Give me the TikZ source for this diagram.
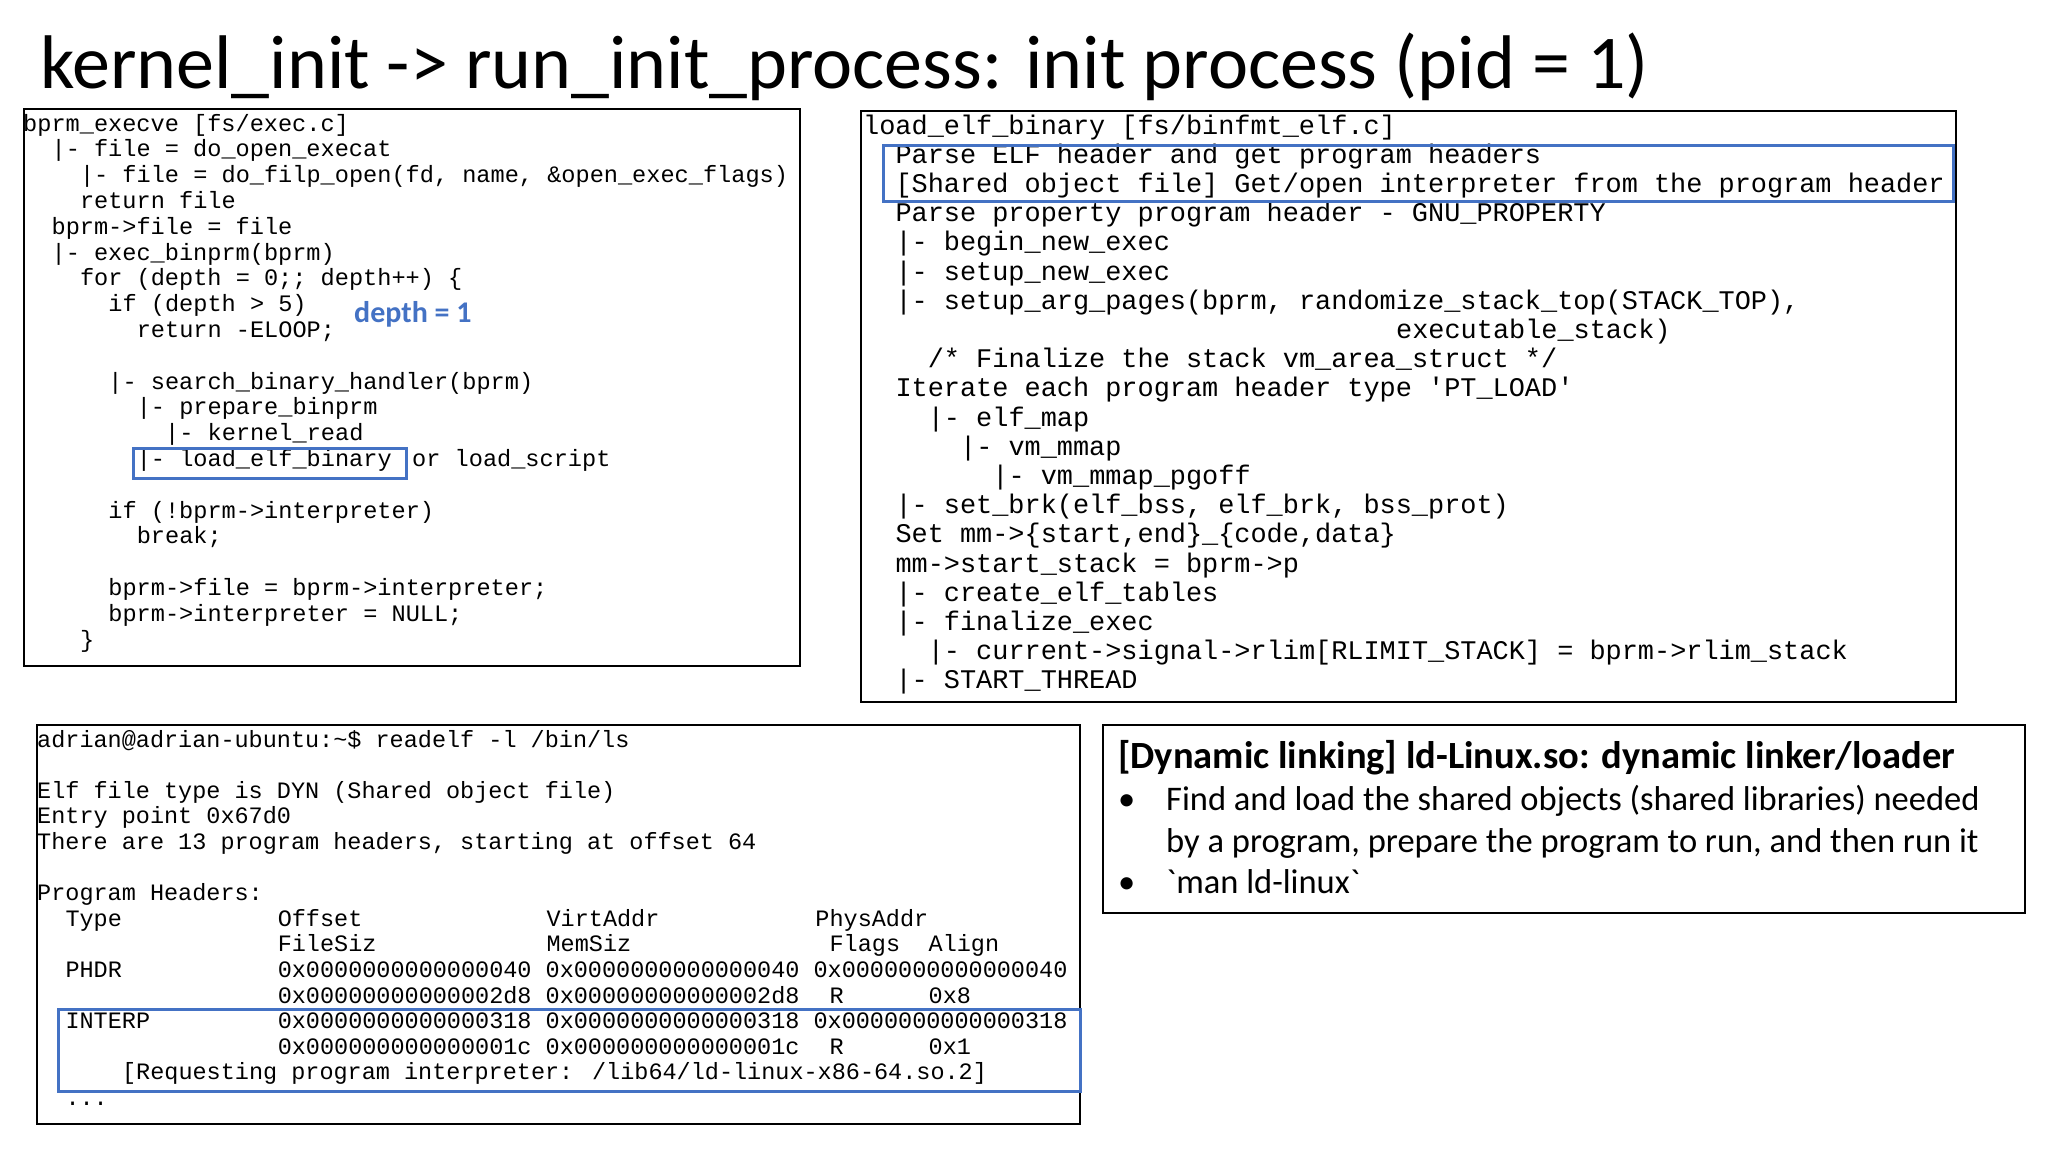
\documentclass[tikz,border=0pt]{standalone}
\usepackage{fontspec}
\setmainfont{Carlito}
\newfontfamily\mono{Liberation Mono}[Ligatures=ResetAll]
\definecolor{hl}{HTML}{4472C4}
\begin{document}
\begin{tikzpicture}[x=1pt,y=-1pt,
  tl/.style={anchor=base west,inner sep=0pt},
  ma/.style={tl,font=\mono\fontsize{23.6}{24}\selectfont},
  mb/.style={tl,font=\mono\fontsize{26.9}{27}\selectfont},
  mc/.style={tl,font=\mono\fontsize{23.5}{24}\selectfont},
  frame/.style={draw=black,line width=2pt},
  hbox/.style={draw=hl,line width=2.5pt}]
\useasboundingbox (0,0) rectangle (2048,1152);
\newcommand\LA[4]{\node[ma] (#1) at ({23+#2*14.2},{131+#3*25.8}) {#4};}
\newcommand\LB[4]{\node[mb] (#1) at ({863+#2*16.15},{134+#3*29.2}) {#4};}
\newcommand\LC[4]{\node[mc] (#1) at ({37+#2*14.15},{747+#3*25.6}) {#4};}
% title
\node[tl,font=\fontsize{76}{80}\selectfont] (title) at (40,88) {kernel\_init -> run\_init\_process: init process (pid = 1)};
% frames
\node[frame,inner sep=0,minimum width=776,minimum height=557,anchor=north west] (fa) at (23,108) {};
\node[frame,inner sep=0,minimum width=1095,minimum height=591,anchor=north west] (fb) at (860,110) {};
\node[frame,inner sep=0,minimum width=1043,minimum height=399,anchor=north west] (fc) at (36,724) {};
\node[frame,inner sep=0,minimum width=922,minimum height=188,anchor=north west] (fd) at (1102,724) {};
% left box
\LA{a0}{0}{0}{bprm\_execve [fs/exec.c]}
\LA{a1}{2}{1}{|- file = do\_open\_execat}
\LA{a2}{4}{2}{|- file = do\_filp\_open(fd, name, \&open\_exec\_flags)}
\LA{a3}{4}{3}{return file}
\LA{a4}{2}{4}{bprm->file = file}
\LA{a5}{2}{5}{|- exec\_binprm(bprm)}
\LA{a6}{4}{6}{for (depth = 0;; depth++) \{}
\LA{a7}{6}{7}{if (depth > 5)}
\LA{a8}{8}{8}{return -ELOOP;}
\LA{a10}{6}{10}{|- search\_binary\_handler(bprm)}
\LA{a11}{8}{11}{|- prepare\_binprm}
\LA{a12}{10}{12}{|- kernel\_read}
\LA{a13}{8}{13}{|- load\_elf\_binary}
\node[ma] (a13b) at (412,{131+13*25.8}) {or load\_script};
\LA{a15}{6}{15}{if (!bprm->interpreter)}
\LA{a16}{8}{16}{break;}
\LA{a18}{6}{18}{bprm->file = bprm->interpreter;}
\LA{a19}{6}{19}{bprm->interpreter = NULL;}
\LA{a20}{4}{20}{\}}
\node[hbox,inner sep=0,minimum width=273,minimum height=30,anchor=north west] (ha) at (132,447) {};
\node[anchor=west,inner sep=0,text=hl,font=\bfseries\fontsize{30}{32}\selectfont] (depth) at (354,314) {depth = 1};
% right box
\LB{b0}{0}{0}{load\_elf\_binary [fs/binfmt\_elf.c]}
\LB{b1}{2}{1}{Parse ELF header and get program headers}
\LB{b2}{2}{2}{[Shared object file] Get/open interpreter from the program header}
\LB{b3}{2}{3}{Parse property program header - GNU\_PROPERTY}
\LB{b4}{2}{4}{|- begin\_new\_exec}
\LB{b5}{2}{5}{|- setup\_new\_exec}
\LB{b6}{2}{6}{|- setup\_arg\_pages(bprm, randomize\_stack\_top(STACK\_TOP),}
\LB{b7}{33}{7}{executable\_stack)}
\LB{b8}{4}{8}{/* Finalize the stack vm\_area\_struct */}
\LB{b9}{2}{9}{Iterate each program header type \symbol{39}PT\_LOAD\symbol{39}}
\LB{b10}{4}{10}{|- elf\_map}
\LB{b11}{6}{11}{|- vm\_mmap}
\LB{b12}{8}{12}{|- vm\_mmap\_pgoff}
\LB{b13}{2}{13}{|- set\_brk(elf\_bss, elf\_brk, bss\_prot)}
\LB{b14}{2}{14}{Set mm->\{start,end\}\_\{code,data\}}
\LB{b15}{2}{15}{mm->start\_stack = bprm->p}
\LB{b16}{2}{16}{|- create\_elf\_tables}
\LB{b17}{2}{17}{|- finalize\_exec}
\LB{b18}{4}{18}{|- current->signal->rlim[RLIMIT\_STACK] = bprm->rlim\_stack}
\LB{b19}{2}{19}{|- START\_THREAD}
\node[hbox,inner sep=0,minimum width=1070,minimum height=56,anchor=north west] (hb) at (882,144) {};
% bottom-left
\LC{c0}{0}{0}{adrian@adrian-ubuntu:\textasciitilde\$ readelf -l /bin/ls}
\LC{c2}{0}{2}{Elf file type is DYN (Shared object file)}
\LC{c3}{0}{3}{Entry point 0x67d0}
\LC{c4}{0}{4}{There are 13 program headers, starting at offset 64}
\LC{c6}{0}{6}{Program Headers:}
\LC{c7a}{2}{7}{Type}
\LC{c7b}{17}{7}{Offset}
\LC{c7c}{36}{7}{VirtAddr}
\LC{c7d}{55}{7}{PhysAddr}
\LC{c8b}{17}{8}{FileSiz}
\LC{c8c}{36}{8}{MemSiz}
\LC{c8d}{56}{8}{Flags}
\LC{c8e}{63}{8}{Align}
\LC{c9a}{2}{9}{PHDR}
\LC{c9b}{17}{9}{0x0000000000000040 0x0000000000000040 0x0000000000000040}
\LC{c10b}{17}{10}{0x00000000000002d8 0x00000000000002d8}
\LC{c10c}{56}{10}{R}
\LC{c10d}{63}{10}{0x8}
\LC{c11a}{2}{11}{INTERP}
\LC{c11b}{17}{11}{0x0000000000000318 0x0000000000000318 0x0000000000000318}
\LC{c12b}{17}{12}{0x000000000000001c 0x000000000000001c}
\LC{c12c}{56}{12}{R}
\LC{c12d}{63}{12}{0x1}
\LC{c13}{6}{13}{[Requesting program interpreter: /lib64/ld-linux-x86-64.so.2]}
\LC{c14}{2}{14}{...}
\node[hbox,inner sep=0,minimum width=1022,minimum height=82,anchor=north west] (hc) at (57,1008) {};
% bottom-right
\node[tl,font=\bfseries\fontsize{38.5}{40}\selectfont] (dh) at (1118,768) {[Dynamic linking] ld-Linux.so: dynamic linker/loader};
\node[tl,font=\fontsize{34.5}{36}\selectfont] (d1b) at (1118,810) {•};
\node[tl,font=\fontsize{34.5}{36}\selectfont] (d1) at (1166,810) {Find and load the shared objects (shared libraries) needed};
\node[tl,font=\fontsize{34.5}{36}\selectfont] (d2) at (1166,852) {by a program, prepare the program to run, and then run it};
\node[tl,font=\fontsize{34.5}{36}\selectfont] (d3b) at (1118,893) {•};
\node[tl,font=\fontsize{34.5}{36}\selectfont] (d3) at (1166,893) {\textasciigrave man ld-linux\textasciigrave};
\end{tikzpicture}
\end{document}
